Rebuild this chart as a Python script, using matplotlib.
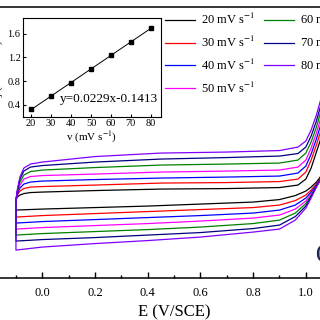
import matplotlib
matplotlib.use("Agg")
from matplotlib import pyplot as plt
from matplotlib.ticker import MultipleLocator

plt.rcParams['font.family'] = ['Liberation Serif', 'DejaVu Serif']
plt.rcParams['mathtext.fontset'] = 'stix'

# scan rates and colours
rates = [20, 30, 40, 50, 60, 70, 80]
cores = ['#000000', '#ff0000', '#0000ff', '#ff00ff', '#008000', '#000080', '#8000ff']

# forward (anodic) branch potentials, V vs SCE
E_up = [-0.10, -0.095, -0.085, -0.07, -0.045, 0.0, 0.2, 0.45, 0.7, 0.9, 0.97, 1.0, 1.02, 1.04, 1.07, 1.10]
# reverse (cathodic) branch potentials
E_down = [1.08, 1.06, 1.04, 1.02, 1.0, 0.96, 0.9, 0.8, 0.6, 0.4, 0.2, 0.0, -0.10]

j_up_20 = [0.0, 0.3, 0.5, 0.65, 0.75, 0.8, 0.95, 1.1, 1.15, 1.25, 1.5, 2.1, 3.2, 4.8, 7.2, 9.5]
j_up_30 = [0.0, 0.5, 0.9, 1.15, 1.3, 1.35, 1.5, 1.7, 1.75, 1.85, 2.1, 2.8, 4.0, 5.5, 8.0, 10.3]
j_up_40 = [0.0, 0.6, 1.2, 1.6, 1.8, 1.9, 2.05, 2.2, 2.3, 2.4, 2.7, 3.4, 4.6, 6.1, 8.7, 11.0]
j_up_50 = [0.0, 0.7, 1.5, 2.1, 2.35, 2.45, 2.6, 2.8, 2.9, 3.0, 3.3, 4.0, 5.2, 6.7, 9.4, 11.7]
j_up_60 = [0.0, 0.8, 1.8, 2.5, 2.85, 3.0, 3.25, 3.5, 3.6, 3.7, 4.0, 4.7, 5.8, 7.3, 10.1, 12.4]
j_up_70 = [0.0, 0.9, 2.1, 2.9, 3.3, 3.45, 3.8, 4.1, 4.25, 4.4, 4.65, 5.3, 6.4, 7.9, 10.7, 13.1]
j_up_80 = [0.0, 1.0, 2.3, 3.2, 3.6, 3.8, 4.35, 4.7, 4.8, 4.95, 5.3, 5.9, 7.0, 8.5, 11.3, 13.8]

j_down_20 = [4.0, 2.5, 1.8, 1.3, 0.9, 0.45, 0.05, -0.2, -0.4, -0.6, -0.75, -0.9, -1.0]
j_down_30 = [4.0, 2.4, 1.6, 1.0, 0.5, -0.05, -0.5, -0.75, -0.95, -1.15, -1.35, -1.55, -1.7]
j_down_40 = [4.0, 2.35, 1.5, 0.8, 0.2, -0.5, -1.0, -1.3, -1.55, -1.75, -1.95, -2.15, -2.3]
j_down_50 = [4.0, 2.3, 1.4, 0.6, -0.1, -0.9, -1.5, -1.8, -2.1, -2.35, -2.55, -2.75, -2.9]
j_down_60 = [4.0, 2.3, 1.4, 0.45, -0.35, -1.3, -2.0, -2.35, -2.7, -2.95, -3.15, -3.35, -3.5]
j_down_70 = [4.0, 2.25, 1.35, 0.35, -0.6, -1.65, -2.5, -2.85, -3.25, -3.5, -3.75, -3.95, -4.1]
j_down_80 = [4.0, 2.2, 1.3, 0.2, -0.8, -2.0, -2.9, -3.2, -3.7, -4.05, -4.35, -4.7, -5.0]

j_up = [j_up_20, j_up_30, j_up_40, j_up_50, j_up_60, j_up_70, j_up_80]
j_down = [j_down_20, j_down_30, j_down_40, j_down_50, j_down_60, j_down_70, j_down_80]

# inset: capacitive current vs scan rate
v_inset = [20, 30, 40, 50, 60, 70, 80]
j_inset = [0.32, 0.55, 0.77, 1.00, 1.24, 1.46, 1.70]
slope = 0.0229
intercept = -0.1413

fig = plt.figure(figsize=(3.2, 3.2), dpi=100)
ax = fig.add_axes([-0.0325, 0.131, 1.153, 0.847])

for (rate, cor, up, down) in zip(rates, cores, j_up, j_down):
    E_all = E_up + E_down + [E_up[0]]
    j_all = up + down + [up[0]]
    ax.plot(E_all, j_all, color=cor, lw=0.9, label='%d mV s$^{-1}$' % rate)

ax.set_xlim(-0.2, 1.2)
ax.set_ylim(-7.8, 19.3)
ax.xaxis.set_major_locator(MultipleLocator(0.2))
ax.xaxis.set_minor_locator(MultipleLocator(0.1))
ax.set_xticks([0.0, 0.2, 0.4, 0.6, 0.8, 1.0])
ax.set_xticklabels(['0.0', '0.2', '0.4', '0.6', '0.8', '1.0'])
ax.set_yticks([])
ax.tick_params(axis='x', which='major', direction='in', length=4, width=1, labelsize=9, pad=6.5)
ax.tick_params(axis='x', which='minor', direction='in', length=2.5, width=1)
for s in ax.spines.values():
    s.set_linewidth(1.1)
ax.set_xlabel('E (V/SCE)', fontsize=12, labelpad=4)

ax.legend(ncol=2, loc='upper left', bbox_to_anchor=(165 / 320, 1 - 12 / 320),
          bbox_transform=fig.transFigure, frameon=False, fontsize=9,
          handlelength=2.4, handletextpad=0.5, columnspacing=0.7,
          labelspacing=0.62, borderpad=0, borderaxespad=0)

fig.text(315 / 320, 1 - 253 / 320, '(c)', fontsize=14, fontweight='bold',
         color='#1a2550', ha='left', va='center')

# inset
ins = fig.add_axes([0.071, 0.634, 0.432, 0.309])
ins.plot(v_inset, [slope * v + intercept for v in v_inset], color='black', lw=0.7)
ins.plot(v_inset, j_inset, 's', color='black', ms=2.2)
ins.set_xlim(15.8, 85)
ins.set_ylim(0.19, 1.86)
ins.set_xticks([20, 30, 40, 50, 60, 70, 80])
ins.set_yticks([0.4, 0.8, 1.2, 1.6])
ins.set_yticklabels(['0.4', '0.8', '1.2', '1.6'])
ins.tick_params(direction='in', length=2.5, width=0.8, labelsize=7.5, pad=1.5)
for s in ins.spines.values():
    s.set_linewidth(0.8)
ins.set_xlabel('v (mV s$^{-1}$)', fontsize=8, labelpad=1)
ins.set_ylabel('j (mA cm$^{-2}$)', fontsize=8, labelpad=1)
ins.text(34.5, 0.49, 'y=0.0229x-0.1413', fontsize=9.5, ha='left', va='center')

fig.savefig('out.png', dpi=100)
